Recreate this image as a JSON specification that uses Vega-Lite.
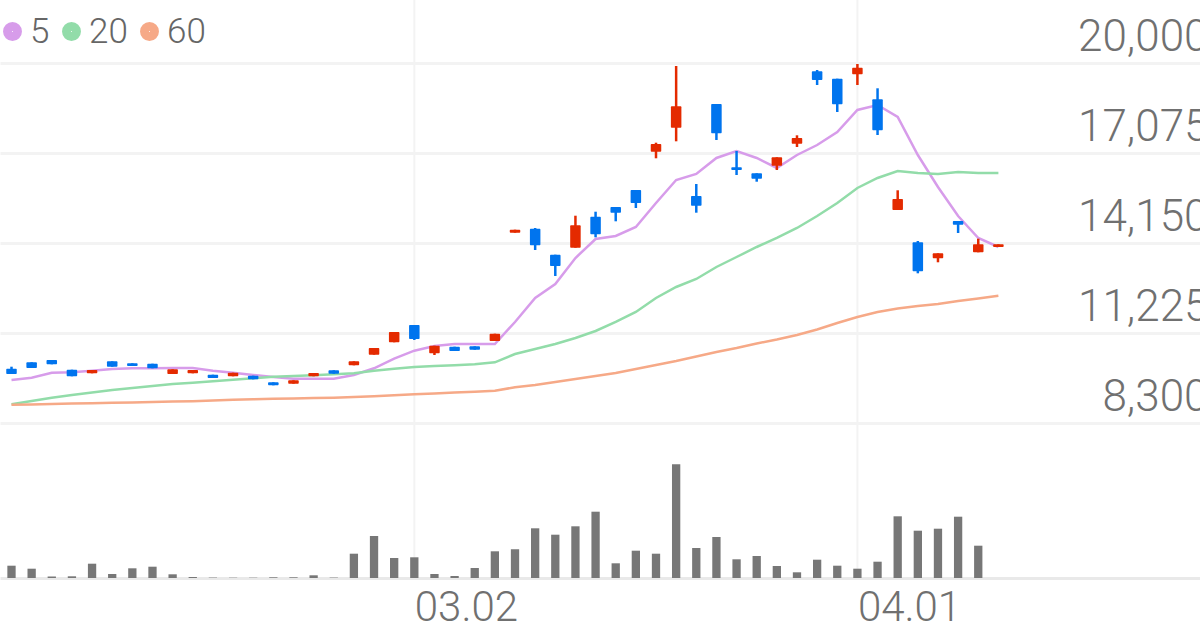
{
  "$schema": "https://vega.github.io/schema/vega-lite/v6.json",
  "width": 1200,
  "height": 630,
  "autosize": "none",
  "padding": 0,
  "background": "#ffffff",
  "config": {
    "view": {"stroke": null},
    "font": "Roboto"
  },
  "datasets": {
    "days": [
      {"i":0,"o":10065,"h":10130,"l":9893,"c":9893,"v":12.3,"5":9700,"20":8908,"60":8895},
      {"i":1,"o":10273,"h":10273,"l":10088,"c":10088,"v":9.3,"5":9772,"20":9015,"60":8905},
      {"i":2,"o":10348,"h":10348,"l":10208,"c":10208,"v":1.5,"5":9935,"20":9123,"60":8918},
      {"i":3,"o":10032,"h":10032,"l":9818,"c":9818,"v":1.7,"5":9948,"20":9210,"60":8931},
      {"i":4,"o":9915,"h":10023,"l":9915,"c":10023,"v":14.3,"5":10000,"20":9291,"60":8944},
      {"i":5,"o":10305,"h":10305,"l":10130,"c":10130,"v":4,"5":10055,"20":9373,"60":8957},
      {"i":6,"o":10240,"h":10240,"l":10153,"c":10153,"v":9.7,"5":10078,"20":9438,"60":8970},
      {"i":7,"o":10227,"h":10227,"l":10078,"c":10078,"v":11.3,"5":10078,"20":9503,"60":8983},
      {"i":8,"o":9893,"h":10045,"l":9893,"c":10045,"v":3.7,"5":10088,"20":9568,"60":8996},
      {"i":9,"o":9915,"h":10023,"l":9915,"c":10023,"v":1,"5":10088,"20":9610,"60":9009},
      {"i":10,"o":9870,"h":9870,"l":9763,"c":9763,"v":0.4,"5":10000,"20":9655,"60":9032},
      {"i":11,"o":9818,"h":9935,"l":9818,"c":9935,"v":0.3,"5":9935,"20":9708,"60":9058},
      {"i":12,"o":9837,"h":9837,"l":9720,"c":9720,"v":0.3,"5":9860,"20":9753,"60":9074},
      {"i":13,"o":9623,"h":9623,"l":9525,"c":9525,"v":0.7,"5":9795,"20":9805,"60":9087},
      {"i":14,"o":9577,"h":9688,"l":9577,"c":9688,"v":0.7,"5":9740,"20":9828,"60":9100},
      {"i":15,"o":9818,"h":9925,"l":9818,"c":9925,"v":2.7,"5":9740,"20":9850,"60":9113},
      {"i":16,"o":10013,"h":10013,"l":9902,"c":9902,"v":0.4,"5":9740,"20":9883,"60":9123},
      {"i":17,"o":10175,"h":10305,"l":10175,"c":10305,"v":24.3,"5":9860,"20":9915,"60":9145},
      {"i":18,"o":10520,"h":10738,"l":10520,"c":10738,"v":42,"5":10078,"20":10000,"60":9171},
      {"i":19,"o":10923,"h":11258,"l":10923,"c":11258,"v":20,"5":10390,"20":10065,"60":9204},
      {"i":20,"o":11485,"h":11485,"l":10998,"c":11030,"v":20.7,"5":10650,"20":10120,"60":9233},
      {"i":21,"o":10565,"h":10812,"l":10510,"c":10812,"v":4,"5":10803,"20":10153,"60":9262},
      {"i":22,"o":10780,"h":10780,"l":10640,"c":10640,"v":2,"5":10868,"20":10175,"60":9288},
      {"i":23,"o":10793,"h":10793,"l":10682,"c":10682,"v":10,"5":10868,"20":10208,"60":9314},
      {"i":24,"o":10965,"h":11202,"l":10965,"c":11202,"v":26.7,"5":10868,"20":10273,"60":9350},
      {"i":25,"o":14485,"h":14582,"l":14485,"c":14582,"v":28.7,"5":11583,"20":10543,"60":9461},
      {"i":26,"o":14615,"h":14638,"l":13923,"c":14075,"v":49.7,"5":12363,"20":10705,"60":9535},
      {"i":27,"o":13770,"h":13770,"l":13078,"c":13403,"v":43.3,"5":12818,"20":10868,"60":9633},
      {"i":28,"o":13997,"h":15037,"l":13997,"c":14725,"v":51.7,"5":13663,"20":11063,"60":9730},
      {"i":29,"o":15005,"h":15167,"l":14335,"c":14433,"v":66.3,"5":14280,"20":11290,"60":9828},
      {"i":30,"o":15320,"h":15320,"l":14855,"c":15135,"v":14.7,"5":14378,"20":11583,"60":9925},
      {"i":31,"o":15873,"h":15873,"l":15288,"c":15450,"v":27.3,"5":14670,"20":11908,"60":10055},
      {"i":32,"o":17117,"h":17410,"l":16903,"c":17368,"v":24.3,"5":15450,"20":12363,"60":10185},
      {"i":33,"o":17897,"h":19903,"l":17455,"c":18593,"v":113.7,"5":16198,"20":12720,"60":10315},
      {"i":34,"o":15678,"h":16068,"l":15135,"c":15362,"v":30,"5":16393,"20":12980,"60":10462},
      {"i":35,"o":18668,"h":18668,"l":17498,"c":17715,"v":41,"5":16913,"20":13370,"60":10608},
      {"i":36,"o":16610,"h":17140,"l":16360,"c":16523,"v":18.7,"5":17140,"20":13695,"60":10738},
      {"i":37,"o":16415,"h":16415,"l":16142,"c":16240,"v":22,"5":16913,"20":14020,"60":10884},
      {"i":38,"o":16662,"h":16935,"l":16523,"c":16935,"v":12,"5":16588,"20":14313,"60":11014},
      {"i":39,"o":17377,"h":17650,"l":17270,"c":17563,"v":5.7,"5":17010,"20":14638,"60":11160},
      {"i":40,"o":19730,"h":19773,"l":19285,"c":19448,"v":18.3,"5":17335,"20":15028,"60":11339},
      {"i":41,"o":19490,"h":19490,"l":18408,"c":18658,"v":12.3,"5":17758,"20":15450,"60":11550},
      {"i":42,"o":19633,"h":19968,"l":19285,"c":19847,"v":9.3,"5":18473,"20":15938,"60":11745},
      {"i":43,"o":18820,"h":19178,"l":17660,"c":17813,"v":16.3,"5":18635,"20":16263,"60":11908},
      {"i":44,"o":15223,"h":15863,"l":15223,"c":15580,"v":61.7,"5":18245,"20":16490,"60":12022},
      {"i":45,"o":14173,"h":14215,"l":13165,"c":13230,"v":47.3,"5":17010,"20":16425,"60":12103},
      {"i":46,"o":13653,"h":13815,"l":13523,"c":13815,"v":49.3,"5":15970,"20":16393,"60":12168},
      {"i":47,"o":14865,"h":14865,"l":14475,"c":14745,"v":61.3,"5":15028,"20":16458,"60":12265},
      {"i":48,"o":13848,"h":14290,"l":13848,"c":14108,"v":32.3,"5":14313,"20":16425,"60":12346},
      {"i":49,"o":14020,"h":14108,"l":14020,"c":14108,"v":0,"5":14020,"20":16425,"60":12438}
    ],
    "months": [{"i":20},{"i":42}]
  },
  "encoding": {
    "x": {
      "field": "i",
      "type": "quantitative",
      "title": null,
      "scale": {"domain": [-0.571, 59.01], "range": [0, 1200], "padding": 0, "nice": false, "zero": false},
      "axis": {
        "orient": "bottom",
        "values": [20, 42],
        "labelExpr": "datum.value == 20 ? '03.02' : '04.01'",
        "labelAlign": "left",
        "labelBaseline": "bottom",
        "labelPadding": -1,
        "labelFont": "Roboto",
        "labelFontWeight": 300,
        "labelFontSize": 42,
        "labelColor": "#707070",
        "domain": false,
        "ticks": false,
        "grid": false
      }
    }
  },
  "layer": [
    {
      "layer": [
        {
          "data": {"name": "months"},
          "mark": {"type": "rule", "color": "#f3f3f3", "strokeWidth": 2},
          "encoding": {
            "y": {
              "datum": 0,
              "type": "quantitative",
              "title": null,
              "scale": {"domain": [-52, 578], "nice": false, "zero": false},
              "axis": {
                "orient": "left",
                "values": [0],
                "labels": false,
                "domain": false,
                "ticks": false,
                "grid": true,
                "gridColor": "#e9e9e9",
                "gridWidth": 3
              }
            },
            "y2": {"datum": 578}
          }
        },
        {
          "data": {"name": "days"},
          "mark": {"type": "bar", "orient": "vertical", "size": 8.3, "color": "#777777"},
          "encoding": {
            "y": {"field": "v", "type": "quantitative", "title": null}
          }
        }
      ]
    },
    {
      "data": {"name": "days"},
      "encoding": {
        "y": {
          "type": "quantitative",
          "title": null,
          "scale": {"domain": [1572.5, 22047.5], "nice": false, "zero": false},
          "axis": {
            "orient": "right",
            "values": [8300, 11225, 14150, 17075, 20000],
            "format": ",d",
            "labelAlign": "right",
            "labelBaseline": "bottom",
            "labelPadding": 8,
            "labelOffset": -4,
            "labelFont": "Roboto",
            "labelFontWeight": 300,
            "labelFontSize": 44,
            "labelColor": "#707070",
            "domain": false,
            "ticks": false,
            "grid": true,
            "gridColor": "#f3f3f3",
            "gridWidth": 3
          }
        }
      },
      "layer": [
        {
          "transform": [{"fold": ["5", "20", "60"], "as": ["ma", "price"]}],
          "mark": {"type": "line", "strokeWidth": 2.5},
          "encoding": {
            "y": {"field": "price"},
            "color": {
              "field": "ma",
              "type": "nominal",
              "scale": {"domain": ["5", "20", "60"], "range": ["#d79cea", "#92dca9", "#f6a987"]},
              "legend": {
                "orient": "none",
                "legendX": -5,
                "legendY": 14,
                "direction": "horizontal",
                "title": null,
                "symbolType": "circle",
                "symbolSize": 80,
                "symbolStrokeWidth": 10,
                "labelFont": "Roboto",
                "labelFontWeight": 300,
                "labelFontSize": 35,
                "labelColor": "#666666",
                "labelOffset": 0,
                "columnPadding": -3
              }
            }
          }
        },
        {
          "mark": {"type": "rule", "strokeWidth": 2.5},
          "encoding": {
            "y": {"field": "l"},
            "y2": {"field": "h"},
            "color": {"condition": {"test": "datum.c >= datum.o", "value": "#e42a00"}, "value": "#0074ee"}
          }
        },
        {
          "mark": {"type": "bar", "orient": "vertical", "size": 10.5, "cornerRadius": 1},
          "encoding": {
            "y": {"field": "o"},
            "y2": {"field": "c"},
            "color": {"condition": {"test": "datum.c >= datum.o", "value": "#e42a00"}, "value": "#0074ee"}
          }
        }
      ]
    }
  ],
  "resolve": {"scale": {"y": "independent"}, "axis": {"y": "independent"}}
}
